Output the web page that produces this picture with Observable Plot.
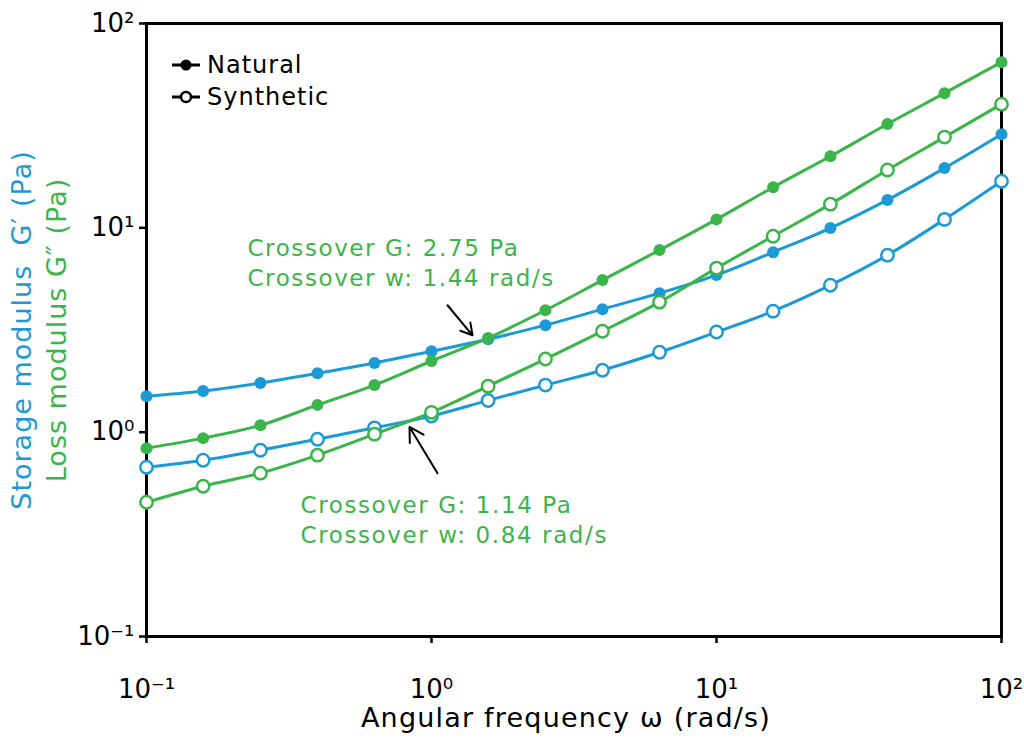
<!DOCTYPE html>
<html>
<head>
<meta charset="utf-8">
<script src="https://cdn.jsdelivr.net/npm/d3@7"></script>
<script src="https://cdn.jsdelivr.net/npm/@observablehq/plot@0.6"></script>
<style>
  html, body { margin: 0; padding: 0; background: #fff; }
  #wrap { position: relative; width: 1024px; height: 740px; font-family: "DejaVu Sans", sans-serif; }
  #legend { position: absolute; left: 172px; top: 49px; font-size: 24px; letter-spacing: 1px; color: #000; }
  .row { display: flex; align-items: center; height: 32px; }
  .row svg { margin-right: 7px; }
</style>
</head>
<body>
<div id="wrap"></div>
<script>
const omega = [0.1, 0.158, 0.251, 0.398, 0.631, 1, 1.58, 2.51, 3.98, 6.31, 10, 15.8, 25.1, 39.8, 63.1, 100];
const naturalStorage = [1.50, 1.59, 1.74, 1.94, 2.18, 2.49, 2.85, 3.34, 4.0, 4.79, 5.87, 7.6, 9.97, 13.7, 19.6, 28.7];
const naturalLoss = [0.835, 0.935, 1.08, 1.36, 1.70, 2.23, 2.89, 3.95, 5.55, 7.78, 11.0, 15.8, 22.4, 32.2, 45.6, 64.7];
const syntheticStorage = [0.674, 0.729, 0.816, 0.924, 1.05, 1.20, 1.43, 1.70, 2.01, 2.46, 3.09, 3.91, 5.24, 7.35, 11.0, 16.9];
const syntheticLoss = [0.454, 0.544, 0.630, 0.772, 0.978, 1.25, 1.68, 2.28, 3.12, 4.33, 6.35, 9.1, 13.06, 19.2, 27.8, 40.3];

const xTicks = [0.1, 1, 10, 100];
const yTicks = [0.1, 1, 10, 100];
const tickLabels = ["10⁻¹", "10⁰", "10¹", "10²"];

const annotationText = ["Crossover G: 2.75 Pa\nCrossover w: 1.44 rad/s", "Crossover G: 1.14 Pa\nCrossover w: 0.84 rad/s"];
const annotationX = [0.226, 0.347];
const annotationY = [6.87, 0.379];
const arrowX1 = [1.138, 1.05];
const arrowY1 = [4.18, 0.63];
const arrowX2 = [1.393, 0.837];
const arrowY2 = [2.98, 1.06];

const BLUE = "#1c9ad6";
const GREEN = "#3bb44a";
const FONT = "'DejaVu Sans', sans-serif";
const Y_LABEL_STORAGE = "Storage modulus  G′ (Pa)";
const Y_LABEL_LOSS = "Loss modulus G″ (Pa)";
const X_LABEL = "Angular frequency ω (rad/s)";

const series = [
  {values: naturalStorage, modulus: "storage", sample: "Natural"},
  {values: naturalLoss, modulus: "loss", sample: "Natural"},
  {values: syntheticStorage, modulus: "storage", sample: "Synthetic"},
  {values: syntheticLoss, modulus: "loss", sample: "Synthetic"}
];
const data = series.flatMap(s => s.values.map((v, i) => ({omega: omega[i], G: v, modulus: s.modulus, sample: s.sample, key: s.sample + s.modulus})));
const annotations = annotationText.map((t, i) => ({text: t, x: annotationX[i], y: annotationY[i]}));
const arrows = arrowX1.map((x, i) => ({x1: x, y1: arrowY1[i], x2: arrowX2[i], y2: arrowY2[i]}));
const fmt = v => tickLabels[xTicks.indexOf(v)];

const chart = Plot.plot({
  width: 1024,
  height: 740,
  marginLeft: 146,
  marginRight: 23,
  marginTop: 23,
  marginBottom: 104,
  style: {fontFamily: FONT, background: "#fff"},
  x: {type: "log", domain: [0.1, 100]},
  y: {type: "log", domain: [0.1, 100]},
  color: {domain: ["storage", "loss"], range: [BLUE, GREEN]},
  marks: [
    Plot.frame({stroke: "#000", strokeWidth: 3}),
    Plot.axisX({ticks: xTicks, tickFormat: fmt, tickSize: 7, tickPadding: 36, fontSize: 26, strokeWidth: 2.5, label: null}),
    Plot.axisY({ticks: yTicks, tickFormat: fmt, tickSize: 7, tickPadding: 5, fontSize: 26, strokeWidth: 2.5, label: null}),
    Plot.line(data, {x: "omega", y: "G", z: "key", stroke: "modulus", strokeWidth: 3, curve: "monotone-x"}),
    Plot.dot(data.filter(d => d.sample === "Natural"), {x: "omega", y: "G", fill: "modulus", r: 6}),
    Plot.dot(data.filter(d => d.sample === "Synthetic"), {x: "omega", y: "G", stroke: "modulus", fill: "#fff", r: 6.2, strokeWidth: 2.5}),
    Plot.text(annotations, {x: "x", y: "y", text: "text", textAnchor: "start", lineAnchor: "middle", lineHeight: 1.32, fill: GREEN, fontSize: 23}),
    Plot.arrow(arrows, {x1: "x1", y1: "y1", x2: "x2", y2: "y2", stroke: "#000", strokeWidth: 2, headLength: 12}),
    Plot.text([Y_LABEL_STORAGE], {text: d => d, frameAnchor: "left", dx: -124, rotate: -90, textAnchor: "middle", lineAnchor: "middle", fill: BLUE, fontSize: 27}),
    Plot.text([Y_LABEL_LOSS], {text: d => d, frameAnchor: "left", dx: -89, rotate: -90, textAnchor: "middle", lineAnchor: "middle", fill: GREEN, fontSize: 27}),
    Plot.text([X_LABEL], {text: d => d, frameAnchor: "bottom", dy: 82, dx: -8, textAnchor: "middle", lineAnchor: "middle", fill: "#000", fontSize: 27})
  ]
});

const spacing = [[Y_LABEL_STORAGE, 1], [Y_LABEL_LOSS, 1], [X_LABEL, 1.2], ["Crossover", 1.6]];
d3.select(chart).selectAll("text").each(function () {
  const t = this.textContent;
  for (const [prefix, s] of spacing) if (t.startsWith(prefix)) this.setAttribute("letter-spacing", s);
});

const wrap = document.getElementById("wrap");
wrap.appendChild(chart);
const legend = document.createElement("div");
legend.id = "legend";
legend.innerHTML = [
  ["Natural", true], ["Synthetic", false]
].map(([name, filled]) => `<div class="row"><svg width="28" height="14" viewBox="0 0 28 14"><line x1="0" y1="7" x2="28" y2="7" stroke="#000" stroke-width="3"/><circle cx="14" cy="7" r="${filled ? 5.5 : 5}" fill="${filled ? "#000" : "#fff"}" stroke="#000" stroke-width="${filled ? 0 : 2.5}"/></svg><span>${name}</span></div>`).join("");
wrap.appendChild(legend);
</script>
</body>
</html>
